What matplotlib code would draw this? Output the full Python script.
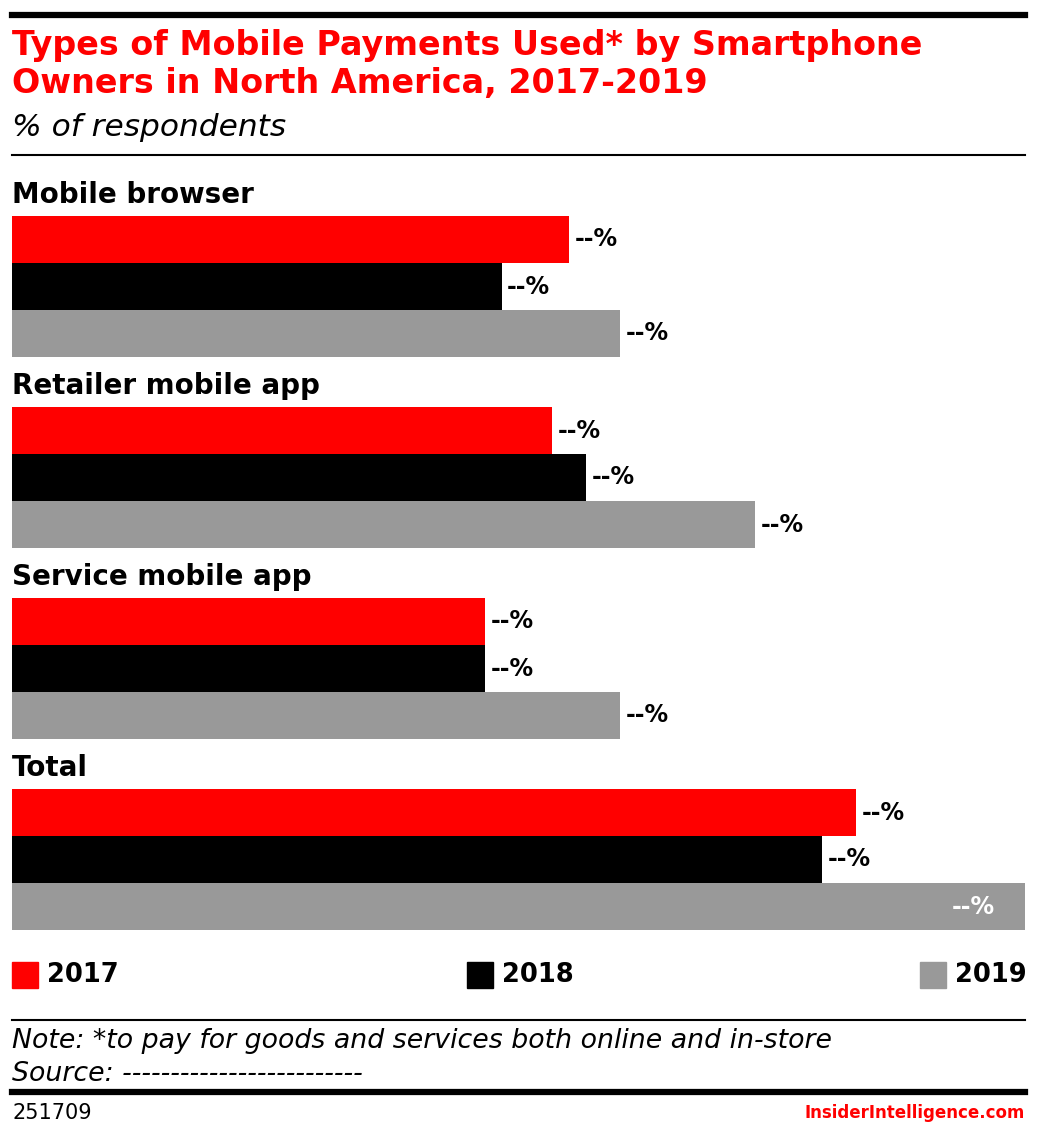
import matplotlib.pyplot as plt
from matplotlib.lines import Line2D
from matplotlib.patches import Rectangle

# data
categories = ["Mobile browser", "Retailer mobile app", "Service mobile app", "Total"]
years = ["2017", "2018", "2019"]
values_2017 = [33, 32, 28, 50]
values_2018 = [29, 34, 28, 48]
values_2019 = [36, 44, 36, 60]
value_labels = ["--%"] * 4
colors = ["#ff0000", "#000000", "#999999"]

W, H = 1038, 1143
fig = plt.figure(figsize=(W / 100, H / 100), dpi=100)
plt.rcParams["font.family"] = ["DejaVu Sans"]


def fy(y):
    # pixel y (from top) -> figure fraction
    return 1 - y / H


def fx(x):
    return x / W


def hline(y, lw):
    fig.add_artist(Line2D([fx(12), fx(1025)], [fy(y), fy(y)], color="black",
                          linewidth=lw, transform=fig.transFigure))


# header
hline(15, 4.5)
fig.text(fx(12), fy(46), "Types of Mobile Payments Used* by Smartphone",
         color="#ff0000", fontsize=24, fontweight="bold", va="center")
fig.text(fx(12), fy(84), "Owners in North America, 2017-2019",
         color="#ff0000", fontsize=24, fontweight="bold", va="center")
fig.text(fx(12), fy(127), "% of respondents", fontsize=22.5, style="italic",
         va="center")
hline(155, 1.5)

# bars
top, bottom = 216, 931
ax = fig.add_axes([fx(12), fy(bottom), fx(1025) - fx(12), (bottom - top) / H])
ax.set_xlim(0, 60)
ax.set_ylim(bottom - top, 0)
ax.axis("off")

pitch = 191
bar_h = 47
series = [values_2017, values_2018, values_2019]
for g, cat in enumerate(categories):
    g0 = g * pitch
    ax.text(0, g0 - 21, cat, fontsize=20, fontweight="bold", va="center",
            ha="left", clip_on=False)
    for i, vals in enumerate(series):
        yc = g0 + i * bar_h + bar_h / 2
        ax.barh(yc, vals[g], height=bar_h, color=colors[i], edgecolor="none")
        if vals[g] >= 58:
            ax.annotate(value_labels[g], (vals[g], yc), xytext=(-22, 0),
                        textcoords="offset points", ha="right", va="center",
                        fontsize=17, fontweight="bold", color="white")
        else:
            ax.annotate(value_labels[g], (vals[g], yc), xytext=(4, 0),
                        textcoords="offset points", ha="left", va="center",
                        fontsize=17, fontweight="bold", color="black")

# legend
legend_x = [12, 467, 920]
for x, yr, c in zip(legend_x, years, colors):
    fig.add_artist(Rectangle((fx(x), fy(988)), fx(26), 26 / H, color=c,
                             transform=fig.transFigure))
    fig.text(fx(x + 35), fy(975), yr, fontsize=18.5, fontweight="bold",
             va="center")

# footer
hline(1020, 1.5)
fig.text(fx(12), fy(1041), "Note: *to pay for goods and services both online and in-store",
         fontsize=19.3, style="italic", va="center")
fig.text(fx(12), fy(1074), "Source: -------------------------",
         fontsize=19.3, style="italic", va="center")
hline(1092, 4.5)
fig.text(fx(12), fy(1113), "251709", fontsize=15, va="center")
fig.text(fx(1025), fy(1113), "InsiderIntelligence.com", fontsize=12,
         fontweight="bold", color="#ff0000", va="center", ha="right")

fig.savefig("out.png", dpi=100)
